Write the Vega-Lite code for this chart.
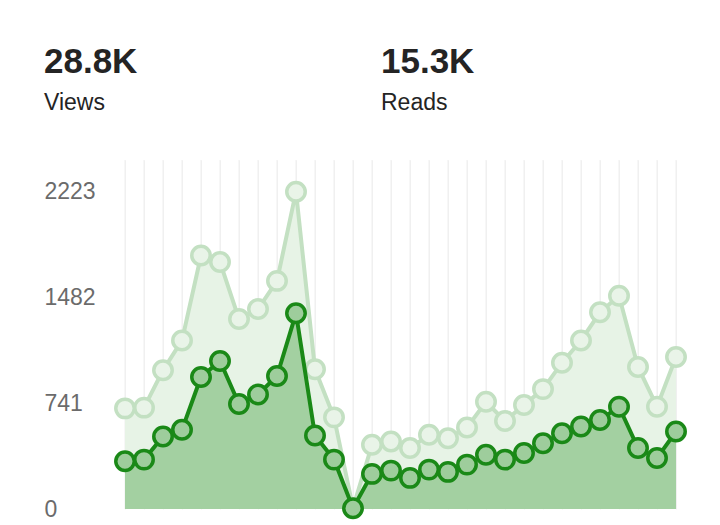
{
  "$schema": "https://vega.github.io/schema/vega-lite/v6.json",
  "description": "Story stats: daily views and reads over 30 days.",
  "padding": {"left": 44, "top": 30, "right": 0, "bottom": 0},
  "config": {
    "view": {"stroke": null},
    "font": "Liberation Sans"
  },
  "datasets": {
    "totals": [
      {"metric": "Views", "total": "28.8K"},
      {"metric": "Reads", "total": "15.3K"}
    ],
    "daily": [
      {"day": 1, "views": 705, "reads": 334},
      {"day": 2, "views": 710, "reads": 346},
      {"day": 3, "views": 972, "reads": 508},
      {"day": 4, "views": 1181, "reads": 555},
      {"day": 5, "views": 1776, "reads": 925},
      {"day": 6, "views": 1730, "reads": 1037},
      {"day": 7, "views": 1331, "reads": 735},
      {"day": 8, "views": 1401, "reads": 802},
      {"day": 9, "views": 1598, "reads": 932},
      {"day": 10, "views": 2223, "reads": 1371},
      {"day": 11, "views": 979, "reads": 515},
      {"day": 12, "views": 642, "reads": 346},
      {"day": 13, "views": 8, "reads": 5},
      {"day": 14, "views": 450, "reads": 246},
      {"day": 15, "views": 473, "reads": 269},
      {"day": 16, "views": 427, "reads": 218},
      {"day": 17, "views": 520, "reads": 276},
      {"day": 18, "views": 496, "reads": 260},
      {"day": 19, "views": 571, "reads": 311},
      {"day": 20, "views": 751, "reads": 380},
      {"day": 21, "views": 617, "reads": 346},
      {"day": 22, "views": 728, "reads": 392},
      {"day": 23, "views": 840, "reads": 461},
      {"day": 24, "views": 1025, "reads": 531},
      {"day": 25, "views": 1181, "reads": 578},
      {"day": 26, "views": 1378, "reads": 624},
      {"day": 27, "views": 1494, "reads": 717},
      {"day": 28, "views": 995, "reads": 427},
      {"day": 29, "views": 717, "reads": 357},
      {"day": 30, "views": 1065, "reads": 543}
    ]
  },
  "spacing": 29,
  "vconcat": [
    {
      "width": 337,
      "height": 100,
      "data": {"name": "totals"},
      "encoding": {
        "x": {
          "field": "metric",
          "type": "nominal",
          "sort": ["Views", "Reads"],
          "scale": {"type": "point", "padding": 0},
          "axis": null
        }
      },
      "layer": [
        {
          "mark": {"type": "text", "align": "left", "baseline": "alphabetic", "dx": -81, "dy": -7, "fontSize": 35, "fontWeight": "bold", "color": "#242424"},
          "encoding": {"text": {"field": "total"}}
        },
        {
          "mark": {"type": "text", "align": "left", "baseline": "alphabetic", "dx": -81, "dy": 30, "fontSize": 23, "color": "#242424"},
          "encoding": {"text": {"field": "metric"}}
        }
      ]
    },
    {
      "width": 551,
      "height": 349,
      "data": {"name": "daily"},
      "encoding": {
        "x": {
          "field": "day",
          "type": "quantitative",
          "scale": {"domain": [1, 30], "nice": false, "zero": false},
          "axis": {
            "values": [1,2,3,4,5,6,7,8,9,10,11,12,13,14,15,16,17,18,19,20,21,22,23,24,25,26,27,28,29,30],
            "grid": true, "gridColor": "#f2f2f2", "gridWidth": 1,
            "labels": false, "ticks": false, "domain": false, "title": null
          }
        }
      },
      "layer": [
        {
          "mark": {"type": "rule", "color": "#eeeeee", "strokeWidth": 1},
          "encoding": {"y": {"datum": 2445, "type": "quantitative"}}
        },
        {
          "mark": {"type": "area", "color": "#e7f3e6", "opacity": 1},
          "encoding": {
            "y": {
              "field": "views",
              "type": "quantitative",
              "scale": {"domain": [0, 2445], "nice": false},
              "axis": {
                "values": [0, 741, 1482, 2223],
                "format": "d",
                "grid": false, "ticks": false, "domain": false, "title": null,
                "labelAlign": "left", "labelBaseline": "middle", "labelPadding": 81,
                "labelFontSize": 23, "labelColor": "#6b6b6b", "labelFont": "Liberation Sans",
                "labelFlush": false, "labelOverlap": false
              }
            }
          }
        },
        {
          "mark": {"type": "area", "color": "#a3d0a1", "opacity": 1},
          "encoding": {"y": {"field": "reads", "type": "quantitative"}}
        },
        {
          "mark": {"type": "line", "color": "#c3e0c2", "strokeWidth": 4},
          "encoding": {"y": {"field": "views", "type": "quantitative"}}
        },
        {
          "mark": {"type": "point", "shape": "circle", "filled": true, "fill": "#e9f4e8", "stroke": "#c3e0c2", "strokeWidth": 3.5, "size": 340, "opacity": 1},
          "encoding": {"y": {"field": "views", "type": "quantitative"}}
        },
        {
          "mark": {"type": "line", "color": "#1a8917", "strokeWidth": 4},
          "encoding": {"y": {"field": "reads", "type": "quantitative"}}
        },
        {
          "mark": {"type": "point", "shape": "circle", "filled": true, "fill": "#9ecd9c", "stroke": "#1a8917", "strokeWidth": 3.5, "size": 340, "opacity": 1},
          "encoding": {"y": {"field": "reads", "type": "quantitative"}}
        }
      ]
    }
  ]
}
